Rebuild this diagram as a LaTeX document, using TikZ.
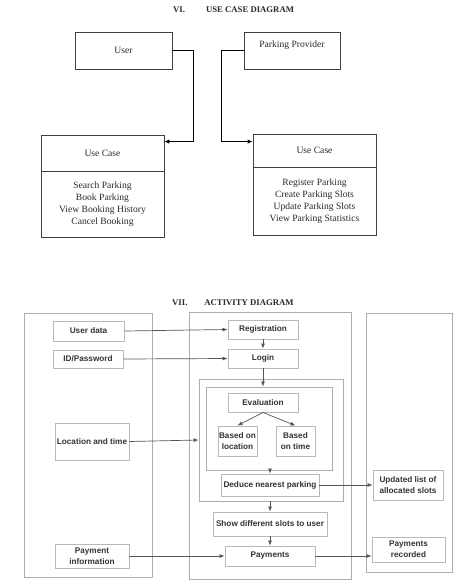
\documentclass[tikz,border=0pt]{standalone}
\usepackage{fontspec}
\setmainfont{Liberation Serif}
\setsansfont{Liberation Sans}
\usepackage{xcolor}
\usepackage{tikz}
\usetikzlibrary{calc,arrows.meta}
\definecolor{ink}{HTML}{2A2A2A}
\definecolor{frame}{HTML}{404040}
\definecolor{lanec}{HTML}{ADADAD}
\definecolor{boxc}{HTML}{B8B8B8}
\definecolor{arr}{HTML}{555555}
\definecolor{txt}{HTML}{333333}
\tikzset{
  ttl/.style={anchor=west, text=ink, font=\fontsize{8.7}{10}\selectfont\bfseries, inner sep=0pt},
  ucbox/.style={draw=frame, line width=0.9pt, text=ink, minimum width=#1, inner sep=0pt, align=center,
    font=\fontsize{9.6}{12}\selectfont},
  conn/.style={draw=black, line width=1.3pt, -{Latex[length=5pt,width=4.5pt]}},
  lane/.style={draw=lanec, line width=0.9pt, inner sep=0pt},
  act/.style={draw=boxc, line width=0.9pt, text=txt, inner sep=0pt, align=center,
    font=\sffamily\bfseries\fontsize{8.2}{11}\selectfont},
  flow/.style={draw=arr, line width=0.7pt, -{Latex[length=5pt,width=4pt]}},
}
\begin{document}
\begin{tikzpicture}[x=1pt,y=-1pt]
  \useasboundingbox[fill=white] (0,0) rectangle (474,587);
  % use case diagram
  \node[ttl] (t6) at (173,10) {VI.\hspace{21pt}USE CASE DIAGRAM};
  \node[ucbox=97pt, minimum height=37pt] (user) at (123.5,50.5) {User};
  \node[ucbox=96pt, minimum height=37pt, text depth=13pt] (prov) at (292,50.5) {Parking Provider};
  \node[ucbox=123pt, minimum height=36pt] (ucl) at (102.5,153) {Use Case};
  \node[ucbox=123pt, minimum height=66pt] (uclb) at (102.5,204)
    {Search Parking\\Book Parking\\View Booking History\\Cancel Booking};
  \node[ucbox=123pt, minimum height=33pt] (ucr) at (314.5,150.5) {Use Case};
  \node[ucbox=123pt, minimum height=68pt] (ucrb) at (314.5,201)
    {Register Parking\\Create Parking Slots\\Update Parking Slots\\View Parking Statistics};
  \draw[conn] (user.east) -- ++(21,0) |- ($(ucl.north east)+(0,7)$);
  \draw[conn] (prov.west) -- ++(-22,0) |- ($(ucr.north west)+(0,8)$);
  % activity diagram
  \node[ttl] (t7) at (172,303) {VII.\hspace{17pt}ACTIVITY DIAGRAM};
  \node[lane, minimum width=128pt, minimum height=264pt] (laneL) at (88,445) {};
  \node[lane, minimum width=162pt, minimum height=267pt] (laneM) at (270,445.5) {};
  \node[lane, minimum width=86pt, minimum height=259pt] (laneR) at (409,442.5) {};
  \node[lane, minimum width=144pt, minimum height=122pt] (grpO) at (271,440) {};
  \node[lane, minimum width=126pt, minimum height=83pt] (grpI) at (269,428.5) {};
  \node[act, minimum width=71pt, minimum height=20pt] (udata) at (88.5,331) {User data};
  \node[act, minimum width=70pt, minimum height=18pt] (idpw) at (88,359) {ID/Password};
  \node[act, minimum width=74pt, minimum height=37pt] (loct) at (92,441.5) {Location and time};
  \node[act, minimum width=74pt, minimum height=24pt] (payinfo) at (92,556) {Payment\\information};
  \node[act, minimum width=70pt, minimum height=19pt] (reg) at (263,329.5) {Registration};
  \node[act, minimum width=70pt, minimum height=19pt] (login) at (263,358.5) {Login};
  \node[act, minimum width=70pt, minimum height=19pt] (eval) at (263,402.5) {Evaluation};
  \node[act, minimum width=39pt, minimum height=30pt] (bloc) at (237.5,441) {Based on\\location};
  \node[act, minimum width=39pt, minimum height=30pt] (btime) at (295.5,441) {Based\\on time};
  \node[act, minimum width=98pt, minimum height=22pt] (deduce) at (270,485) {Deduce nearest parking};
  \node[act, minimum width=114pt, minimum height=24pt] (show) at (270,524) {Show different slots to user};
  \node[act, minimum width=90pt, minimum height=20pt] (pay) at (270,556) {Payments};
  \node[act, minimum width=70pt, minimum height=30pt] (upd) at (408,485) {Updated list of\\allocated slots};
  \node[act, minimum width=73pt, minimum height=25pt] (prec) at (408.5,549.5) {Payments\\recorded};
  \draw[flow] (udata.east) -- (reg.west);
  \draw[flow] (idpw.east) -- (login.west);
  \draw[flow] (loct.east) -- (grpO.west);
  \draw[flow] (payinfo.east) -- (pay.west);
  \draw[flow] (reg.south) -- (login.north);
  \draw[flow] (login.south) -- (login.south |- grpI.north);
  \draw[flow] (eval.south) -- (bloc.north);
  \draw[flow] (eval.south) -- (btime.north);
  \draw[flow] (deduce.north |- grpI.south) -- (deduce.north);
  \draw[flow] (show.north |- grpO.south) -- (show.north);
  \draw[flow] (show.south) -- (pay.north);
  \draw[flow] (deduce.east) -- (upd.west);
  \draw[flow] (pay.east) -- (pay.east -| prec.west);
\end{tikzpicture}
\end{document}
